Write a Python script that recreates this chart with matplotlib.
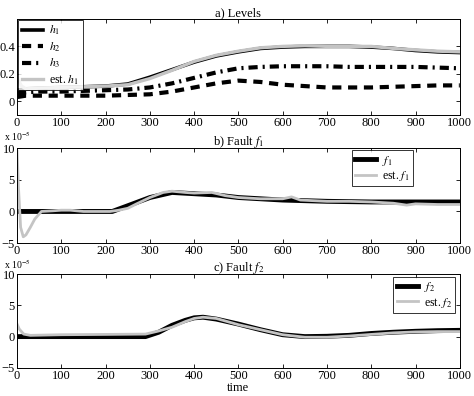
import matplotlib
matplotlib.use('Agg')
import matplotlib.pyplot as plt

plt.rcParams['font.family'] = ['Liberation Serif', 'DejaVu Serif']
plt.rcParams['mathtext.fontset'] = 'stix'

# panel a) levels
t_a = [0, 10, 20, 50, 100, 150, 200, 250, 300, 350, 400, 450, 500, 550,
       600, 650, 700, 750, 800, 850, 900, 950, 1000]
h1 = [0.08, 0.085, 0.09, 0.095, 0.10, 0.105, 0.11, 0.125, 0.175, 0.23, 0.285,
      0.33, 0.36, 0.385, 0.395, 0.40, 0.40, 0.40, 0.395, 0.385, 0.37, 0.36, 0.355]
h2 = [0.03, 0.035, 0.04, 0.04, 0.04, 0.04, 0.04, 0.045, 0.05, 0.07, 0.10,
      0.13, 0.15, 0.14, 0.12, 0.11, 0.10, 0.10, 0.10, 0.105, 0.11, 0.115, 0.115]
h3 = [0.06, 0.06, 0.065, 0.07, 0.07, 0.075, 0.08, 0.085, 0.10, 0.13, 0.17,
      0.21, 0.24, 0.25, 0.255, 0.255, 0.255, 0.25, 0.25, 0.25, 0.25, 0.245, 0.24]
est_h1 = [0.17, 0.11, 0.09, 0.095, 0.10, 0.105, 0.11, 0.12, 0.165, 0.225, 0.29,
          0.335, 0.365, 0.39, 0.40, 0.405, 0.40, 0.40, 0.40, 0.385, 0.375, 0.365, 0.36]

# panel b) fault f1 (units of 1e-5)
t_f1 = [0, 50, 100, 150, 200, 215, 250, 300, 350, 400, 450, 500, 550, 600,
        650, 700, 750, 800, 850, 900, 950, 1000]
f1 = [0, 0, 0, 0, 0, 0, 0.9, 2.2, 3.0, 2.8, 2.6, 2.2, 2.0, 1.8, 1.7, 1.6,
      1.55, 1.5, 1.5, 1.5, 1.5, 1.5]
t_ef1 = [0, 3, 8, 14, 20, 30, 40, 55, 80, 100, 120, 150, 180, 210, 230, 250,
         270, 300, 330, 350, 380, 400, 440, 470, 500, 550, 600, 620, 640, 700,
         750, 800, 850, 880, 900, 950, 1000]
est_f1 = [9.5, 4, -2.5, -4, -3.7, -2.5, -1.2, 0, 0.1, 0.2, 0.2, 0, 0, 0, 0.2,
          0.5, 1.2, 2.2, 3.0, 3.2, 3.0, 2.9, 3.0, 2.5, 2.2, 2.0, 2.0, 2.3, 1.8,
          1.6, 1.6, 1.5, 1.3, 1.0, 1.2, 1.1, 1.1]

# panel c) fault f2 (units of 1e-5)
t_f2 = [0, 100, 200, 290, 320, 350, 380, 400, 420, 450, 500, 550, 600, 650,
        700, 750, 800, 850, 900, 950, 1000]
f2 = [0, 0, 0, 0, 0.7, 1.8, 2.6, 3.0, 3.1, 2.8, 2.0, 1.1, 0.3, 0.0, 0.05,
      0.2, 0.5, 0.7, 0.85, 0.95, 1.0]
t_ef2 = [0, 5, 15, 30, 100, 200, 290, 320, 350, 380, 400, 420, 450, 500, 550,
         600, 650, 700, 750, 800, 850, 900, 950, 1000]
est_f2 = [2.0, 1.2, 0.4, 0.2, 0.3, 0.35, 0.4, 0.9, 1.5, 2.4, 2.9, 3.1, 2.9,
          1.9, 1.1, 0.3, -0.1, -0.1, 0.1, 0.35, 0.6, 0.75, 0.8, 0.8]

xticks = list(range(0, 1001, 100))
gray = '#c4c4c4'

fig = plt.figure(figsize=(4.74, 3.96), dpi=100)
ax_a = fig.add_axes([0.036, 0.710, 0.934, 0.242])
ax_b = fig.add_axes([0.036, 0.386, 0.934, 0.240])
ax_c = fig.add_axes([0.036, 0.071, 0.934, 0.237])


def style(ax):
    ax.set_xlim(0, 1000)
    ax.set_xticks(xticks)
    ax.tick_params(direction='in', top=True, right=True, length=3,
                   width=0.6, labelsize=9, pad=1.5)
    for s in ax.spines.values():
        s.set_linewidth(0.7)


def small_legend(ax, spacing=0.1, **kw):
    leg = ax.legend(fontsize=8.5, frameon=True, fancybox=False,
                    edgecolor='black', handlelength=1.8, handletextpad=0.5,
                    labelspacing=spacing, borderpad=0.3, **kw)
    leg.get_frame().set_linewidth(0.7)
    return leg


def exponent_note(ax, y):
    # MATLAB-style axis multiplier, placed at the top-left corner
    ax.text(-0.03, y, r'x 10$^{-5}$', transform=ax.transAxes, fontsize=7,
            ha='left', va='bottom')


# a) Levels
ax_a.plot(t_a, h1, color='black', lw=2.6, label='$h_1$')
ax_a.plot(t_a, h2, color='black', lw=3, ls=(0, (2.2, 1.6)), label='$h_2$')
ax_a.plot(t_a, h3, color='black', lw=3, ls=(0, (2.2, 1.2, 0.5, 1.2)), label='$h_3$')
ax_a.plot(t_a, est_h1, color=gray, lw=2.4, label='est. $h_1$')
ax_a.set_ylim(-0.1, 0.6)
ax_a.set_yticks([0, 0.2, 0.4])
ax_a.set_yticklabels(['0', '0.2', '0.4'])
style(ax_a)
ax_a.set_title('a) Levels', fontsize=9, pad=2)
small_legend(ax_a, spacing=0.25, loc='upper left', borderaxespad=0.1)

# b) Fault f1
ax_b.plot(t_f1, f1, color='black', lw=3.5, label='$f_1$')
ax_b.plot(t_ef1, est_f1, color=gray, lw=2.0, label='est. $f_1$')
ax_b.set_ylim(-5, 10)
ax_b.set_yticks([-5, 0, 5, 10])
style(ax_b)
ax_b.set_title('b) Fault $f_1$', fontsize=9, pad=2)
exponent_note(ax_b, 1.055)
small_legend(ax_b, loc='upper right', bbox_to_anchor=(0.895, 0.98),
             borderaxespad=0)

# c) Fault f2
ax_c.plot(t_f2, f2, color='black', lw=3.5, label='$f_2$')
ax_c.plot(t_ef2, est_f2, color=gray, lw=2.0, label='est. $f_2$')
ax_c.set_ylim(-5, 10)
ax_c.set_yticks([-5, 0, 5, 10])
style(ax_c)
ax_c.set_title('c) Fault $f_2$', fontsize=9, pad=2)
exponent_note(ax_c, 1.035)
small_legend(ax_c, loc='upper right', bbox_to_anchor=(0.99, 0.97),
             borderaxespad=0)
ax_c.set_xlabel('time', fontsize=9, labelpad=0)

fig.savefig('out.png', dpi=100)
